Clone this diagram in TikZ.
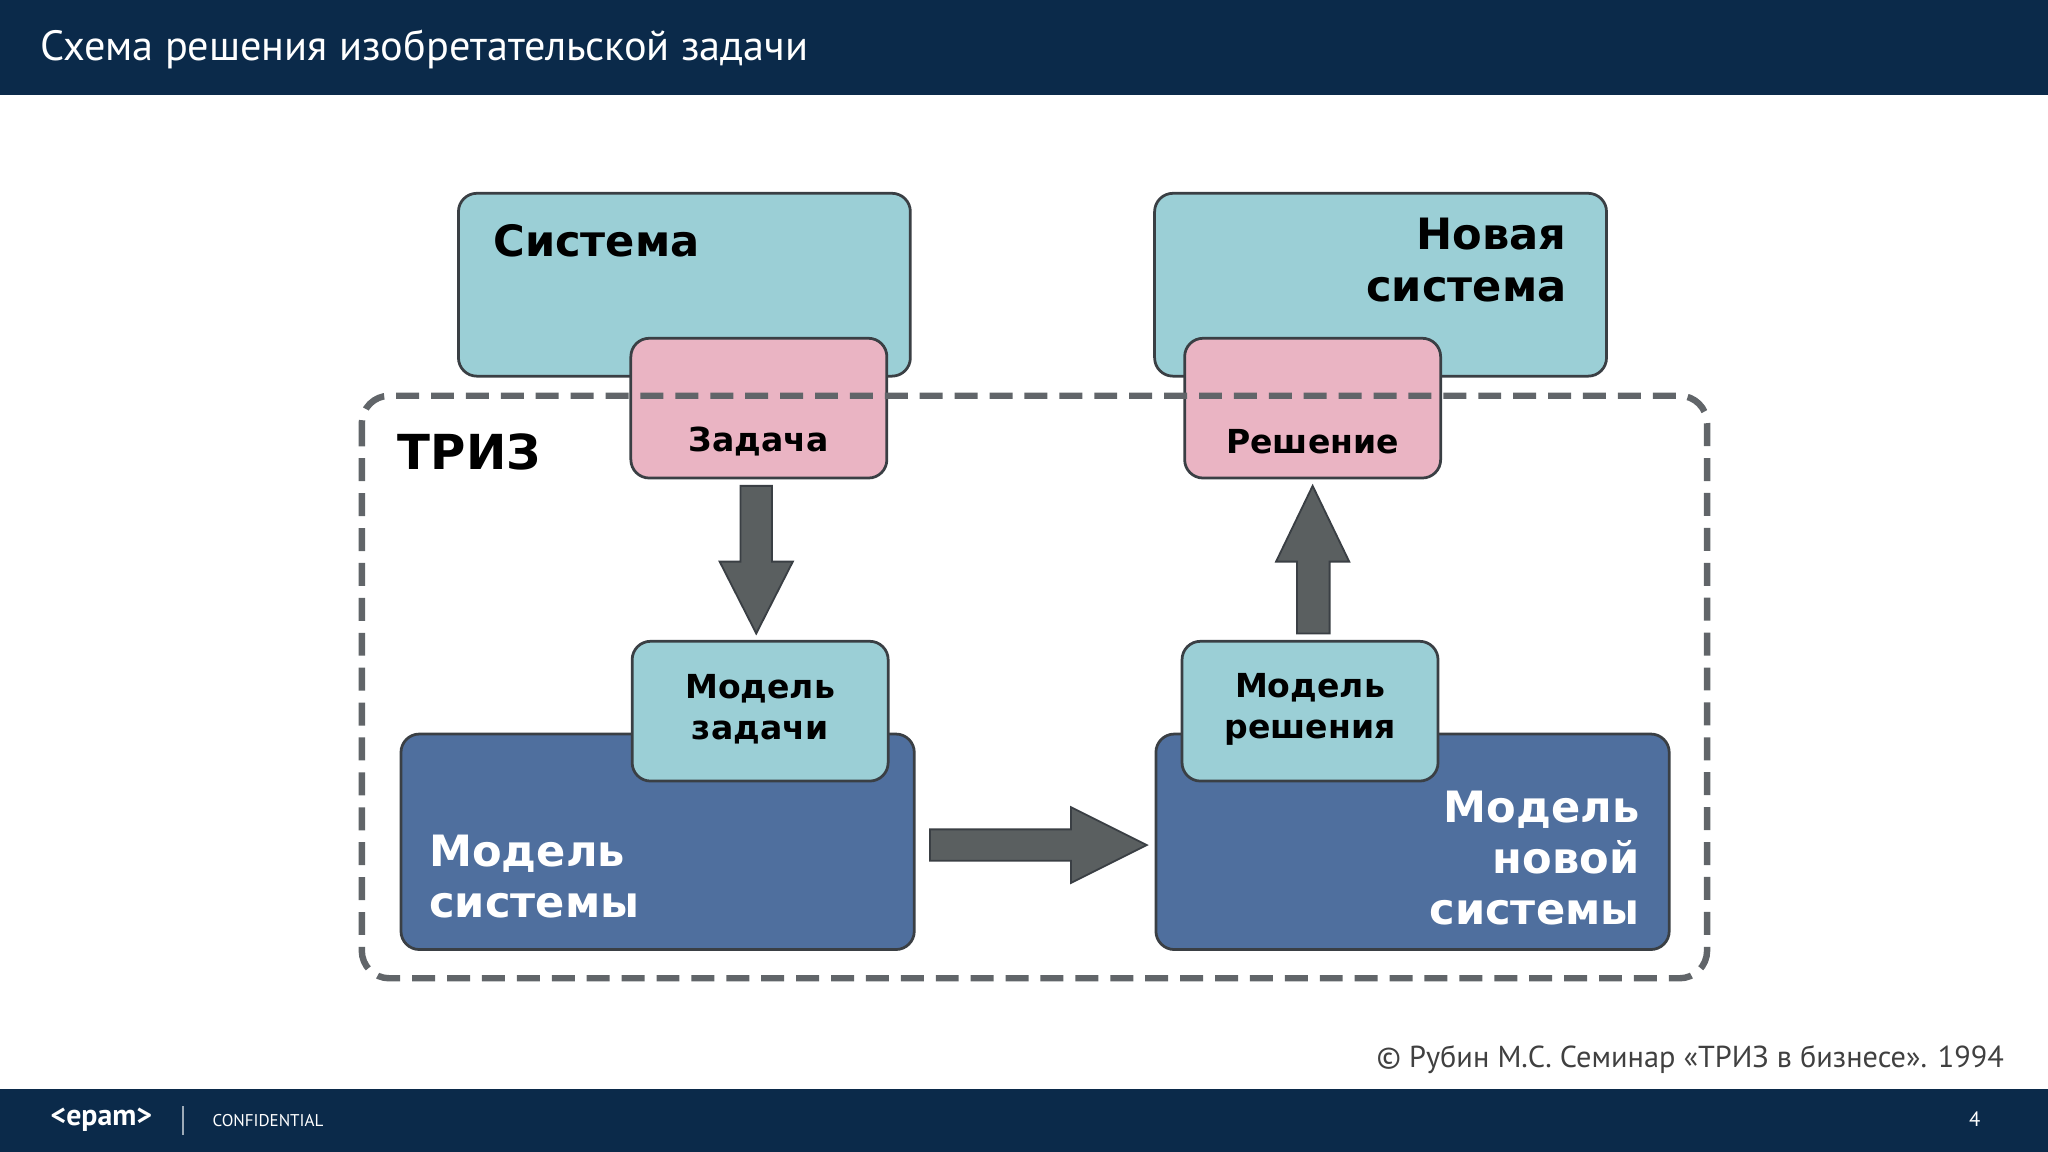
\documentclass[tikz,border=0pt]{standalone}
\usepackage{fontspec}
\setmainfont{PT Sans}
\newfontfamily\boxfont{DejaVu Sans}
\usetikzlibrary{positioning}
\definecolor{navy}{HTML}{0B2A4A}
\definecolor{teal}{HTML}{9BCFD6}
\definecolor{pinkbox}{HTML}{EAB4C3}
\definecolor{bluebox}{HTML}{4F6F9E}
\definecolor{arrowgray}{HTML}{5A5F60}
\definecolor{edge}{HTML}{3A3F44}
\begin{document}
\begin{tikzpicture}[x=0.01cm,y=-0.01cm,
    box/.style={draw=edge, line width=0.6pt, rounded corners=4pt},
    label/.style={font=\boxfont\bfseries\fontsize{9.4}{11.2}\selectfont, align=center},
    small/.style={font=\boxfont\bfseries\fontsize{7.2}{9}\selectfont, align=center},
    blockarrow/.style={fill=arrowgray, draw=edge, line width=0.4pt},
  ]
  \useasboundingbox (0,0) rectangle (1568,882);
  % header and footer
  \fill[navy] (0,0) rectangle (1568,73);
  \fill[navy] (0,834) rectangle (1568,882);
  \node[anchor=west, text=white, font=\fontsize{9.2}{11}\selectfont, inner sep=0pt] (title) at (30,38) {Схема решения изобретательской задачи};
  \node[anchor=west, text=white, font=\bfseries\fontsize{6.5}{8}\selectfont, inner sep=0pt] (logo) at (38,857) {<epam>};
  \draw[white!60!navy, line width=0.4pt] (140,847) -- (140,869);
  \node[anchor=west, text=white, font=\fontsize{3.7}{5}\selectfont, inner sep=0pt] (conf) at (162,858) {CONFIDENTIAL};
  \node[anchor=east, text=white, font=\fontsize{4.5}{6}\selectfont, inner sep=0pt] (page) at (1517,857) {4};
  \node[anchor=east, text=black!75, font=\fontsize{6.6}{8}\selectfont, inner sep=0pt] (copy) at (1535,811) {© Рубин М.С. Семинар «ТРИЗ в бизнесе». 1994};

  % top boxes
  \draw[box, fill=teal] (351,148) rectangle (697,288);
  \draw[box, fill=teal] (884,148) rectangle (1230,288);
  \draw[box, fill=pinkbox] (483,259) rectangle (679,366);
  \draw[box, fill=pinkbox] (907,259) rectangle (1103,366);

  % TRIZ frame
  \draw[edge!80, line width=1.4pt, dash pattern=on 5pt off 2.6pt, rounded corners=6pt] (277,303) rectangle (1307,749);
  \node[anchor=west, font=\boxfont\bfseries\fontsize{10.5}{12}\selectfont, inner sep=0pt] (triz) at (304,346) {ТРИЗ};

  \node[label, anchor=west, inner sep=0pt] (sys) at (377,184) {Система};
  \node[label, anchor=east, align=right, inner sep=0pt] (newsys) at (1200,199) {Новая\\система};
  \node[small] (task) at (581,338) {Задача};
  \node[small] (sol) at (1005,338) {Решение};

  % bottom boxes
  \draw[box, fill=bluebox] (307,562) rectangle (700,727);
  \node[label, anchor=west, align=left, text=white, inner sep=0pt] (msys) at (328,671) {Модель\\системы};
  \draw[box, fill=bluebox] (885,562) rectangle (1278,727);
  \node[label, anchor=east, align=right, text=white, inner sep=0pt] (mnew) at (1256,657) {Модель\\новой\\системы};
  \draw[box, fill=teal] (484,491) rectangle (680,598);
  \node[small] (mtask) at (582,543) {Модель\\задачи};
  \draw[box, fill=teal] (905,491) rectangle (1101,598);
  \node[small] (msol) at (1003,543) {Модель\\решения};

  % block arrows
  \draw[blockarrow] (567,372) -- (591,372) -- (591,430) -- (607,430) -- (579,485) -- (551,430) -- (567,430) -- cycle;
  \draw[blockarrow] (993,485) -- (1018,485) -- (1018,430) -- (1033,430) -- (1005,372) -- (977,430) -- (993,430) -- cycle;
  \draw[blockarrow] (712,635) -- (820,635) -- (820,618) -- (878,647) -- (820,676) -- (820,659) -- (712,659) -- cycle;
\end{tikzpicture}
\end{document}
